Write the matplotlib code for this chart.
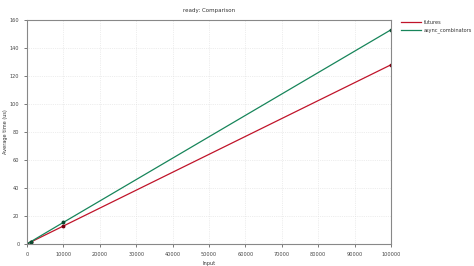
import matplotlib
matplotlib.use("Agg")
import matplotlib.pyplot as plt

inputs = [1, 1000, 10000, 100000]
futures = [0.13, 1.3, 12.8, 128.0]
async_combinators = [0.16, 1.55, 15.4, 153.0]

fig = plt.figure(figsize=(4.74, 2.66), dpi=100)
ax = fig.add_axes([0.057, 0.083, 0.768, 0.842])

ax.plot(inputs, futures, color="#c0142a", lw=0.9, marker="o", ms=1.8,
        mfc="#7a0010", mec="#7a0010", label="futures")
ax.plot(inputs, async_combinators, color="#17855a", lw=0.9, marker="o", ms=1.8,
        mfc="#0b4a30", mec="#0b4a30", label="async_combinators")

ax.set_xlim(0, 100000)
ax.set_ylim(0, 160)
ax.set_xticks(range(0, 100001, 10000))
ax.set_yticks(range(0, 161, 20))
ax.tick_params(labelsize=3.6, length=2, width=0.5, colors="#444444")
ax.grid(True, color="#dddddd", lw=0.5, ls=":")
for s in ax.spines.values():
    s.set_color("#888888")
    s.set_linewidth(0.8)

ax.set_title("ready: Comparison", fontsize=4, pad=6, color="#333333")
ax.set_xlabel("Input", fontsize=3.6, labelpad=3, color="#333333")
ax.set_ylabel("Average time (us)", fontsize=3.6, color="#333333")
ax.yaxis.set_label_coords(-0.052, 0.5)
leg = ax.legend(loc="upper left", bbox_to_anchor=(1.015, 1.02), fontsize=3.6,
                frameon=False, handlelength=4, handletextpad=0.6, labelspacing=0.5)
for line in leg.get_lines():
    line.set_marker("")
for t in leg.get_texts():
    t.set_color("#333333")

fig.savefig("out.png", dpi=100)
